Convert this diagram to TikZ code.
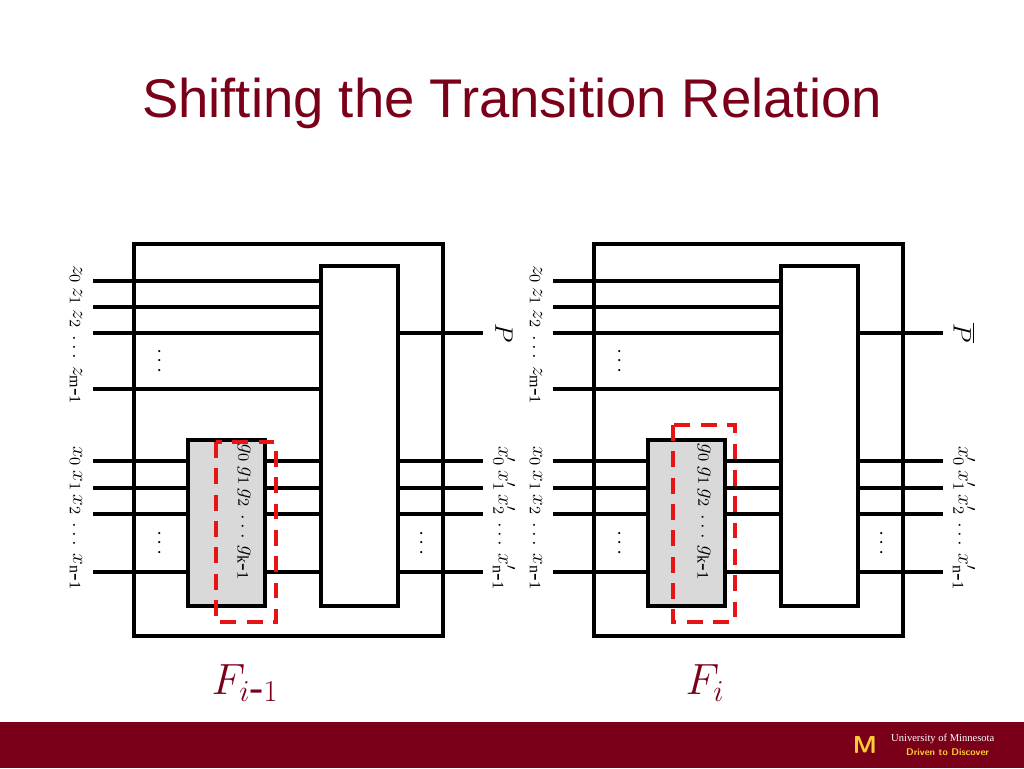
\documentclass[tikz,border=0pt]{standalone}
\usepackage{fontspec}
\setmainfont{Liberation Serif}
\newfontfamily\titlefont{Liberation Sans}
\usetikzlibrary{positioning}
\definecolor{umnmaroon}{RGB}{122,0,25}
\definecolor{umngold}{RGB}{255,204,51}
\definecolor{dashred}{RGB}{230,20,20}

\begin{document}
\begin{tikzpicture}[
    x=0.02cm, y=-0.02cm,
    wire/.style={line width=2.6pt},
    frame/.style={draw, line width=2.6pt},
    gatebox/.style={frame, fill=gray!30},
    shiftbox/.style={draw=dashred, dashed, dash pattern=on 9pt off 6pt, line width=2.4pt},
    sig/.style={font=\fontsize{13}{15}\selectfont, rotate=-90, anchor=center},
    dotsv/.style={font=\fontsize{13}{15}\selectfont, rotate=90}
]
\useasboundingbox (0,0) rectangle (1024,768);

% Title and footer
\node[font=\titlefont\fontsize{31}{36}\selectfont, text=umnmaroon] (title) at (512,103) {Shifting the Transition Relation};
\fill[umnmaroon] (0,722) rectangle (1024,768);
\node[font=\sffamily\bfseries\fontsize{14}{14}\selectfont, text=umngold] (logo) at (865,745) {M};
\node[font=\fontsize{6}{7}\selectfont, text=white, anchor=west] (univ) at (885,739) {\textsc{University of Minnesota}};
\node[font=\sffamily\bfseries\fontsize{5.5}{6}\selectfont, text=umngold, anchor=west] (motto) at (900,752) {Driven to Discover};

% Two circuits: shift, dashed box left/top, output label, frame label
\foreach \s/\dx/\gl/\gt/\gr/\pl/\fl in {L/0/216/442/276/{$P$}/{$F_{i\mbox{-}1}$}, R/460/213/425/275/{$\overline{P}$}/{$F_{i}$}}{
\begin{scope}[shift={(\dx,0)}]
% boxes
\draw[frame] (134,244) rectangle (443,636);
\node[gatebox, minimum width=1.54cm, minimum height=3.32cm, inner sep=0pt] (gate\s) at (226.5,523) {};
\node[frame, fill=white, minimum width=1.54cm, minimum height=6.8cm, inner sep=0pt] (trans\s) at (359.5,436) {};
% z inputs
\foreach \y in {281,307,333,389}{
  \coordinate (in) at (93,\y);
  \draw[wire] (in) -- (in -| trans\s.west);
}
\coordinate (pout) at (483,333);
\draw[wire] (pout -| trans\s.east) -- (pout);
% x inputs, gate outputs and next-state outputs
\foreach \y in {461,488,514,572}{
  \coordinate (in) at (93,\y);
  \coordinate (out) at (483,\y);
  \draw[wire] (in) -- (in -| gate\s.west);
  \draw[wire] (in -| gate\s.east) -- (in -| trans\s.west);
  \draw[wire] (out -| trans\s.east) -- (out);
}
\node[dotsv] (dz\s) at (160,361) {$\cdots$};
\node[dotsv] (dx\s) at (160,543) {$\cdots$};
\node[dotsv] (dy\s) at (422,543) {$\cdots$};
% signal labels
\node[sig] (zl\s) at (76,335) {$z_0\,z_1\,z_2\,\ldots\,z_{\mathrm{m\mbox{-}1}}$};
\node[sig] (xl\s) at (76,518) {$x_0\,x_1\,x_2\,\ldots\,x_{\mathrm{n\mbox{-}1}}$};
\node[sig] (gl\s) at (244,512) {$g_0\,g_1\,g_2\,\ldots\,g_{\mathrm{k\mbox{-}1}}$};
\node[sig, font=\fontsize{15}{17}\selectfont] (pl\s) at (504,333) {\pl};
\node[sig] (yl\s) at (504,518) {$x_0'\,x_1'\,x_2'\,\ldots\,x_{\mathrm{n\mbox{-}1}}'$};
% shifted frame
\draw[shiftbox] (\gl,\gt) rectangle (\gr,622);
\node[font=\fontsize{24}{28}\selectfont, text=umnmaroon] (fl\s) at (245,683) {\fl};
\end{scope}
}
\end{tikzpicture}
\end{document}
